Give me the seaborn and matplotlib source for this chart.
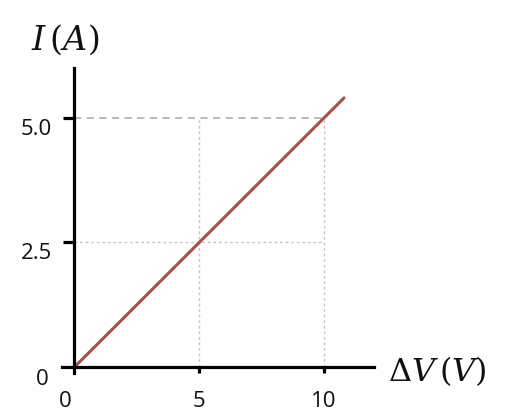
import matplotlib
matplotlib.use('Agg')
import matplotlib.pyplot as plt
import matplotlib.transforms as mtransforms
import seaborn as sns
import pandas as pd

# Chart data
voltage = [0, 2, 4, 6, 8, 10, 10.8]
current = [0, 1.0, 2.0, 3.0, 4.0, 5.0, 5.4]
x_ticks = [5, 10]
x_tick_labels = ['5', '10']
y_ticks = [2.5, 5.0]
y_tick_labels = ['2.5', '5.0']

sns.set_theme(style='white')
plt.rcParams['font.family'] = ['Open Sans', 'DejaVu Sans']
plt.rcParams['mathtext.fontset'] = 'dejavuserif'

df = pd.DataFrame({'V': voltage, 'I': current})

fig = plt.figure(figsize=(5.14, 4.16), dpi=100)
ax = fig.add_axes([62 / 514, 43 / 416, 312 / 514, 305 / 416])

# guide lines
ax.plot([0, 10], [5, 5], color='#b4b4b4', lw=1.3, ls=(0, (4, 3)), zorder=1)
ax.plot([0, 10], [2.5, 2.5], color='#c4c4c4', lw=1.0, ls=(0, (2, 2)), zorder=1)
ax.plot([5, 5], [0, 5], color='#c4c4c4', lw=1.0, ls=(0, (2, 2)), zorder=1)
ax.plot([10, 10], [0, 5], color='#c4c4c4', lw=1.0, ls=(0, (2, 2)), zorder=1)

sns.lineplot(data=df, x='V', y='I', ax=ax, color='#a84f49', lw=2.2, zorder=3)

ax.set_xlim(-0.5, 12)
ax.set_ylim(-0.12, 6)

for side in ['top', 'right']:
    ax.spines[side].set_visible(False)
ax.spines['left'].set_position(('data', 0))
ax.spines['bottom'].set_position(('data', 0))
for side in ['left', 'bottom']:
    ax.spines[side].set_linewidth(2.3)
    ax.spines[side].set_color('black')
    ax.spines[side].set_zorder(4)

ax.set_xticks(x_ticks)
ax.set_xticklabels(x_tick_labels)
ax.set_yticks(y_ticks)
ax.set_yticklabels(y_tick_labels)
ax.tick_params(axis='y', direction='out', length=8, width=2.3, color='black',
               labelsize=16, labelcolor='#111111', pad=8, left=True)
ax.tick_params(axis='x', direction='out', length=4, width=2.3, color='black',
               labelsize=16, labelcolor='#111111', pad=13, bottom=True)

# nudge y tick labels downward
off = mtransforms.ScaledTranslation(0, -9 / 100, fig.dpi_scale_trans)
for lab in ax.get_yticklabels():
    lab.set_transform(lab.get_transform() + off)

# origin labels
ax.text(-1.3, -0.25, '0', fontsize=16, color='#111111', ha='center', va='center')
ax.text(-0.36, -0.7, '0', fontsize=16, color='#111111', ha='center', va='center')

ax.set_xlabel('')
ax.set_ylabel('')
fig.text(65 / 514, 1 - 40 / 416, r'$I\,(A)$', fontsize=24, color='#111111',
         ha='center', va='center')
fig.text(437 / 514, 1 - 372 / 416, r'$\Delta V\,(V)$', fontsize=23, color='#111111',
         ha='center', va='center')

fig.savefig('out.png', dpi=100)
